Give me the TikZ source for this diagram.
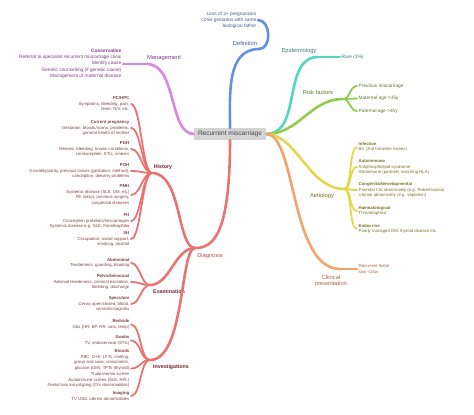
\documentclass[tikz,border=0pt]{standalone}
\usepackage{fontspec}
\setmainfont{Liberation Sans}
\usetikzlibrary{positioning}
\definecolor{rootFill}{RGB}{212,212,212}
\definecolor{rootText}{RGB}{70,70,70}
\definecolor{defBlue}{RGB}{98,144,226}
\definecolor{defText}{RGB}{70,90,150}
\definecolor{epiTeal}{RGB}{84,214,186}
\definecolor{epiText}{RGB}{60,125,112}
\definecolor{riskGreen}{RGB}{145,204,76}
\definecolor{riskText}{RGB}{95,120,45}
\definecolor{aetYellow}{RGB}{226,216,80}
\definecolor{aetText}{RGB}{120,110,35}
\definecolor{clinOrange}{RGB}{242,164,106}
\definecolor{clinText}{RGB}{170,100,60}
\definecolor{mgmtPurple}{RGB}{218,135,228}
\definecolor{mgmtText}{RGB}{130,55,140}
\definecolor{diagRed}{RGB}{232,116,114}
\definecolor{diagText}{RGB}{180,75,75}
\definecolor{diagHead}{RGB}{120,30,45}
\definecolor{diagNote}{RGB}{125,65,65}
\newcommand{\hd}[1]{\textbf{#1}}
\tikzset{
  rootbox/.style={fill=rootFill,text=rootText,minimum width=72pt,minimum height=12pt,
                  inner sep=1pt,font=\fontsize{6.5}{7}\selectfont},
  branch/.style={line width=2.6pt,line cap=round},
  twig/.style={line width=1.8pt,line cap=round},
  blbl/.style={font=\fontsize{5.8}{6.6}\selectfont,inner sep=1pt},
  sublbl/.style={font=\fontsize{5.3}{6}\selectfont\bfseries,inner sep=1pt,text=diagHead},
  leaf/.style={font=\fontsize{4.8}{6}\selectfont,inner sep=1.5pt},
  detl/.style={font=\fontsize{4.3}{5.7}\selectfont,inner sep=1.5pt},
  lnote/.style={detl,align=right,anchor=east,text=diagNote},
  rnote/.style={detl,align=left,anchor=west,text=aetText},
}
\begin{document}
\begin{tikzpicture}[x=1pt,y=-1pt]
  \useasboundingbox (0,0) rectangle (474,415);
  \node[rootbox] (root) at (230,134) {Recurrent miscarriage};

  % definition
  \coordinate (def) at (259,49);
  \node[blbl,text=defText] (deflbl) at (245,43) {Definition};
  \node[leaf,align=right,anchor=east,text=defText] (deftxt) at (258,20)
    {Loss of 3+ pregnancies\\<24w gestation with same\\biological father};
  \draw[branch,defBlue] (root.north) to[out=90,in=180] (def);
  \draw[branch,defBlue] (def) to[out=0,in=0,out distance=13pt,in distance=13pt] (deftxt.east);

  % epidemiology
  \coordinate (epi) at (318,57);
  \node[blbl,text=epiText] (epilbl) at (299,50.5) {Epidemiology};
  \node[leaf,anchor=west,text=epiText] (rare) at (340,57) {Rare (1\%)};
  \draw[branch,epiTeal] (root.east) to[out=0,in=180] (epi);
  \draw[branch,epiTeal] (epi) -- (rare.west);

  % risk factors
  \coordinate (risk) at (343,99);
  \node[blbl,text=riskText] (risklbl) at (318,92) {Risk factors};
  \node[leaf,anchor=west,text=riskText] (prev) at (357,86) {Previous miscarriage};
  \node[leaf,anchor=west,text=riskText] (mat) at (357,98.5) {Maternal age >35y};
  \node[leaf,anchor=west,text=riskText] (pat) at (357,111) {Paternal age >40y};
  \draw[branch,riskGreen] (root.east) to[out=0,in=180] (risk);
  \foreach \n in {prev,mat,pat}
    \draw[twig,riskGreen] (risk) to[out=0,in=180,out distance=7pt,in distance=7pt] (\n.west);

  % aetiology
  \coordinate (aet) at (344,189);
  \node[blbl,text=aetText] (aetlbl) at (322,196) {Aetiology};
  \node[rnote] (inf) at (357,147) {\hd{Infection}\\BV (2nd trimester losses)};
  \node[rnote] (auto) at (357,167) {\hd{Autoimmune}\\Antiphospholipid syndrome\\Alloimmune (partners matching HLA)};
  \node[rnote] (cong) at (357,190) {\hd{Congenital/developmental}\\Parental Chr abnormality (e.g. Robertsonian)\\Uterine abnormality (e.g. septation)};
  \node[rnote] (haem) at (357,211) {\hd{Haematological}\\Thrombophilia};
  \node[rnote] (endo) at (357,229) {\hd{Endocrine}\\Poorly managed DM, thyroid disease etc.};
  \draw[branch,aetYellow] (root.east) to[out=0,in=180,out distance=30pt,in distance=35pt] (aet);
  \foreach \n in {inf,auto,cong,haem,endo}
    \draw[twig,aetYellow] (aet) to[out=0,in=180,out distance=8pt,in distance=8pt] (\n.west);

  % clinical presentation
  \coordinate (clin) at (340,269);
  \node[blbl,text=clinText,align=center] (clinlbl) at (331,281) {Clinical\\presentation};
  \node[detl,align=left,anchor=west,text=clinText] (rfl) at (357,269) {Recurrent foetal\\loss <24w};
  \draw[branch,clinOrange] (root.east) to[out=0,in=180,out distance=30pt,in distance=50pt] (clin);
  \draw[branch,clinOrange] (clin) -- (rfl.west);

  % management
  \coordinate (mgmt) at (147,64);
  \node[blbl,text=mgmtText] (mgmtlbl) at (164,58) {Management};
  \node[leaf,align=right,anchor=east,text=mgmtText] (cons) at (123,64)
    {\hd{Conservative}\\Referral to specialist recurrent miscarriage clinic\\Identify cause\\[1pt]
     Genetic counselling (if genetic cause)\\Management of maternal disease};
  \draw[branch,mgmtPurple] (root.west) to[out=180,in=0,out distance=25pt,in distance=30pt] (mgmt);
  \draw[branch,mgmtPurple] (mgmt) -- (cons.east);

  % diagnosis
  \coordinate (diag) at (195,248);
  \node[blbl,text=diagText] (diaglbl) at (210,256) {Diagnosis};
  \draw[branch,diagRed] (root.south) to[out=-90,in=0,out distance=95pt,in distance=18pt] (diag);

  \coordinate (hist) at (152,173);
  \node[sublbl] (histlbl) at (163,167) {History};
  \coordinate (exam) at (150,285);
  \node[sublbl] (examlbl) at (169,292) {Examination};
  \coordinate (inv) at (150,360);
  \node[sublbl] (invlbl) at (171,367) {Investigations};
  \draw[branch,diagRed] (diag) to[out=180,in=0,out distance=18pt,in distance=30pt] (hist);
  \draw[branch,diagRed] (diag) to[out=180,in=0,out distance=20pt,in distance=20pt] (exam);
  \draw[branch,diagRed] (diag) to[out=180,in=0,out distance=15pt,in distance=35pt] (inv);

  % history
  \node[lnote] (pc) at (131,104) {\hd{PC/HPC}\\Symptoms, bleeding, pain,\\fever, N/V, etc.};
  \node[lnote] (cp) at (131,128) {\hd{Current pregnancy}\\Gestation, bloods/scans, problems,\\general health of mother};
  \node[lnote] (pgh) at (131,149) {\hd{PGH}\\Menses, bleeding, known conditions,\\contraception, STIs, smears};
  \node[lnote] (poh) at (131,171) {\hd{POH}\\Gravidity/parity, previous losses (gestation, method),\\conception, delivery problems};
  \node[lnote] (pmh) at (131,195) {\hd{PMH}\\Systemic disease (SLE, DM, etc)\\Rh status, previous surgery,\\congenital diseases};
  \node[lnote] (fh) at (131,221) {\hd{FH}\\Conception problems/miscarriages\\Systemic disease e.g. SLE, thrombophilia};
  \node[lnote] (sh) at (131,239) {\hd{SH}\\Occupation, social support,\\smoking, alcohol};
  \foreach \n in {pc,cp,pgh,poh,pmh,fh,sh}
    \draw[twig,diagRed] (hist) to[out=180,in=0,out distance=10pt,in distance=10pt] (\n.east);

  % examination
  \node[lnote] (abd) at (131,263) {\hd{Abdominal}\\Tenderness, guarding, bloating};
  \node[lnote] (pelv) at (131,282) {\hd{Pelvic/bimanual}\\Adnexal tenderness, cervical excitation,\\bleeding, discharge};
  \node[lnote] (spec) at (131,304) {\hd{Speculum}\\Cervix open/closed, blood,\\cervicitis/vaginitis};
  \foreach \n in {abd,pelv,spec}
    \draw[twig,diagRed] (exam) to[out=180,in=0,out distance=9pt,in distance=9pt] (\n.east);

  % investigations
  \node[lnote] (bed) at (131,324.5) {\hd{Bedside}\\Obs (HR, BP, RR, sats, temp)};
  \node[lnote] (swab) at (131,340.5) {\hd{Swabs}\\TV, endocervical (STIs)};
  \node[lnote] (blood) at (131,368.5) {\hd{Bloods}\\FBC, U+E, LFTs, clotting,\\group and save, crossmatch,\\glucose (DM), TFTs (thyroid)\\Thalassemia screen\\Autoimmune screen (SLE, APL)\\Foetal loss karyotyping (Chr abnormalities)};
  \node[lnote] (img) at (131,396) {\hd{Imaging}\\TV USS: uterine abnormalities};
  \foreach \n in {bed,swab,blood,img}
    \draw[twig,diagRed] (inv) to[out=180,in=0,out distance=10pt,in distance=10pt] (\n.east);
\end{tikzpicture}
\end{document}
